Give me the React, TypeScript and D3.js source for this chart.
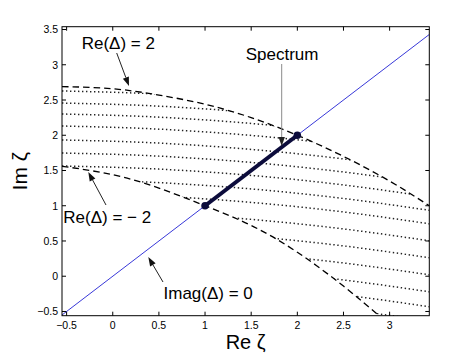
import React from "react";
import * as d3 from "d3";

// ---- data ----
const xTicks = [-0.5, 0, 0.5, 1, 1.5, 2, 2.5, 3];
const yTicks = [-0.5, 0, 0.5, 1, 1.5, 2, 2.5, 3, 3.5];
const xDomain = [-0.55, 3.43];
const yDomain = [-0.56, 3.54];

// Re(Δ) = 2 (upper dashed curve)
const upperX = [-0.55, 0, 0.5, 1, 1.5, 2, 2.5, 3, 3.43];
const upperY = [2.69, 2.66, 2.57, 2.44, 2.25, 2.0, 1.7, 1.35, 1.0];

// Re(Δ) = -2 (lower dashed curve)
const lowerX = [-0.55, 0, 0.5, 1, 1.5, 2, 2.5, 2.92];
const lowerY = [1.56, 1.44, 1.25, 1.0, 0.72, 0.34, -0.14, -0.6];

// Imag(Δ) = 0 line
const imagZeroX = [-0.55, 3.43];
const imagZeroY = [-0.55, 3.43];

// Spectrum segment
const spectrumX = [1, 2];
const spectrumY = [1, 2];

// dotted hatch lines: left-edge levels and common sag profile
const hatchX = [-0.55, 0.45, 1.45, 2.45, 3.43];
const hatchSag = [0, 0.041, 0.128, 0.261, 0.437];
const hatchLevels = [2.628, 2.457, 2.301, 2.131, 1.933, 1.748, 1.564, 1.372, 1.181, 0.94, 0.699, 0.457, 0.216, 0.004, -0.2];

const fmt = (v: number) => (v < 0 ? "\u2212" + String(-v) : String(v));

const W = 474, H = 355;
const L = 62, R = 429.3, T = 26.7, B = 315.7;
const FONT = "'Liberation Sans', Arial, Helvetica, sans-serif";

function Arrow({ x1, y1, x2, y2, color = "#222", head = "#111" }: any) {
  const ang = Math.atan2(y2 - y1, x2 - x1);
  const len = 9, hw = 3.2;
  const bx = x2 - len * Math.cos(ang), by = y2 - len * Math.sin(ang);
  const px = -Math.sin(ang) * hw, py = Math.cos(ang) * hw;
  return (
    <g>
      <line x1={x1} y1={y1} x2={bx} y2={by} stroke={color} strokeWidth={1} />
      <path d={`M${x2},${y2}L${bx + px},${by + py}L${bx - px},${by - py}Z`} fill={head} />
    </g>
  );
}

export default function App() {
  const x = d3.scaleLinear().domain(xDomain).range([L, R]);
  const y = d3.scaleLinear().domain(yDomain).range([B, T]);
  const line = d3.line<[number, number]>().x((d) => x(d[0])).y((d) => y(d[1])).curve(d3.curveNatural);
  const straight = d3.line<[number, number]>().x((d) => x(d[0])).y((d) => y(d[1]));

  const upperPts = upperX.map((v, i) => [v, upperY[i]] as [number, number]);
  const lowerPts = lowerX.map((v, i) => [v, lowerY[i]] as [number, number]);
  const upperD = line(upperPts) as string;
  const lowerD = line(lowerPts) as string;
  const lowerRevD = (line([...lowerPts].reverse()) as string).replace(/^M/, "L");
  const bandD = upperD + `L${x(xDomain[1]) + 2},${y(upperY[upperY.length - 1])}L${x(xDomain[1]) + 2},${B + 5}L${x(lowerX[lowerX.length - 1])},${B + 5}` + lowerRevD + "Z";

  const hatch = hatchLevels.map((lv) => hatchX.map((hx, i) => [hx, lv - hatchSag[i]] as [number, number]));
  const hatchLine = d3.line<[number, number]>().x((d) => x(d[0])).y((d) => y(d[1])).curve(d3.curveMonotoneX);

  const tk = 4;
  return (
    <svg width={W} height={H} style={{ position: "absolute", left: 0, top: 0, background: "#fff" }} fontFamily={FONT}>
      <defs>
        <clipPath id="plotClip">
          <rect x={L} y={T} width={R - L} height={B - T} />
        </clipPath>
        <clipPath id="bandClip">
          <path d={bandD} />
        </clipPath>
      </defs>
      <rect x={0} y={0} width={W} height={H} fill="#fff" />
      <g clipPath="url(#plotClip)">
        <g clipPath="url(#bandClip)">
          {hatch.map((pts, i) => (
            <path key={i} d={hatchLine(pts) as string} fill="none" stroke="#222" strokeWidth={1.5} strokeDasharray="1.4 2.6" />
          ))}
        </g>
        <path d={upperD} fill="none" stroke="#000" strokeWidth={1.3} strokeDasharray="6.5 4" />
        <path d={lowerD} fill="none" stroke="#000" strokeWidth={1.3} strokeDasharray="6.5 4" />
        <path
          d={straight(imagZeroX.map((v, i) => [v, imagZeroY[i]] as [number, number])) as string}
          fill="none"
          stroke="#3838d8"
          strokeWidth={1}
        />
        <path
          d={straight(spectrumX.map((v, i) => [v, spectrumY[i]] as [number, number])) as string}
          fill="none"
          stroke="#0c0c3c"
          strokeWidth={4}
        />
        {spectrumX.map((v, i) => (
          <circle key={i} cx={x(v)} cy={y(spectrumY[i])} r={3.8} fill="#0c0c3c" />
        ))}
      </g>

      {/* axes box and ticks */}
      <rect x={L} y={T} width={R - L} height={B - T} fill="none" stroke="#000" strokeWidth={1} />
      {xTicks.map((t) => (
        <g key={"x" + t}>
          <line x1={x(t)} x2={x(t)} y1={B} y2={B - tk} stroke="#000" />
          <line x1={x(t)} x2={x(t)} y1={T} y2={T + tk} stroke="#000" />
          <text x={x(t)} y={328.5} fontSize={10.5} textAnchor="middle" fill="#000">
            {fmt(t)}
          </text>
        </g>
      ))}
      {yTicks.map((t) => (
        <g key={"y" + t}>
          <line x1={L} x2={L + tk} y1={y(t)} y2={y(t)} stroke="#000" />
          <line x1={R} x2={R - tk} y1={y(t)} y2={y(t)} stroke="#000" />
          <text x={58} y={y(t) + 3.8} fontSize={10.5} textAnchor="end" fill="#000">
            {fmt(t)}
          </text>
        </g>
      ))}

      {/* axis labels */}
      <text x={(L + R) / 2} y={349} fontSize={20} textAnchor="middle" fill="#000">
        Re ζ
      </text>
      <text transform={`translate(27,${(T + B) / 2}) rotate(-90)`} fontSize={21} textAnchor="middle" fill="#000">
        Im ζ
      </text>

      {/* annotations */}
      <text x={81.7} y={48.5} fontSize={17} fill="#000">Re(Δ) = 2</text>
      <Arrow x1={116.7} y1={53} x2={129} y2={86} />

      <text x={245.7} y={60} fontSize={17} fill="#000">Spectrum</text>
      <Arrow x1={281.7} y1={64} x2={281.7} y2={146} color="#8a8a8a" head="#222" />

      <text x={63.3} y={223.3} fontSize={17} fill="#000">Re(Δ) = − 2</text>
      <Arrow x1={106} y1={205} x2={88.3} y2={172} />

      <text x={163.5} y={299} fontSize={17} fill="#000">Imag(Δ) = 0</text>
      <Arrow x1={163} y1={282} x2={148.3} y2={257} />
    </svg>
  );
}
